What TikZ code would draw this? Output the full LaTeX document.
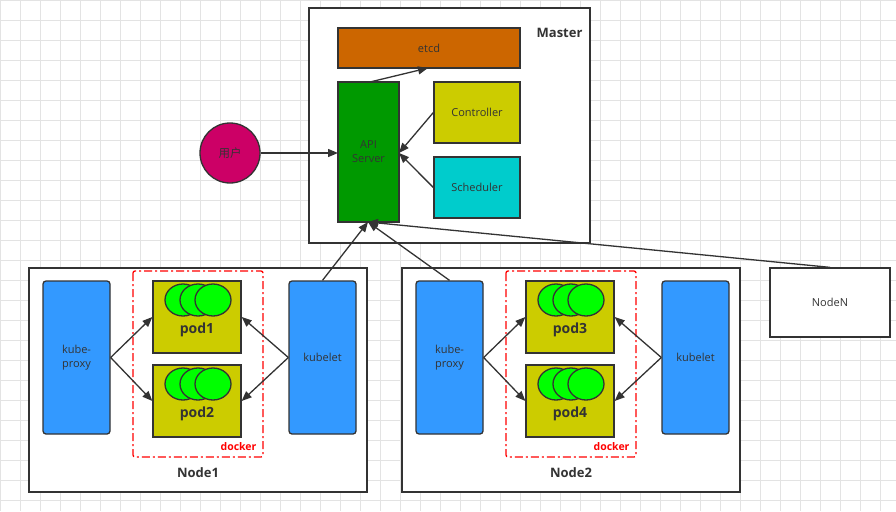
\documentclass[tikz,border=0pt]{standalone}
\usepackage{fontspec}
\setmainfont{Open Sans}
\newfontfamily\cjk{Noto Sans CJK SC}
\usetikzlibrary{arrows.meta}
\definecolor{txt}{HTML}{333333}
\definecolor{etcdc}{HTML}{CC6600}
\definecolor{apic}{HTML}{009900}
\definecolor{ctrlc}{HTML}{CCCC00}
\definecolor{schc}{HTML}{00CCCC}
\definecolor{userc}{HTML}{CC0066}
\definecolor{bluec}{HTML}{3399FF}
\definecolor{podc}{HTML}{00FF00}
\begin{document}
\begin{tikzpicture}[x=1pt,y=-1pt,
  box/.style={draw=txt,line width=1.3pt,text=txt,font=\fontsize{11}{14}\selectfont,inner sep=0pt},
  frame/.style={draw=txt,line width=1.3pt,fill=white},
  blue/.style={box,fill=bluec,rounded corners=3pt,align=center},
  pod/.style={box,fill=ctrlc},
  arr/.style={draw=txt,line width=1.3pt,-{Triangle[length=10pt,width=8pt]}},
  lbl/.style={text=txt,font=\fontsize{13}{15}\selectfont\bfseries}]
\useasboundingbox (0,0) rectangle (896,511);
\fill[white] (0,0) rectangle (896,511);
\foreach \gx in {0,20,...,880} \draw[black!11,line width=0.5pt] (\gx,0) -- (\gx,511);
\foreach \gy in {0,20,...,500} \draw[black!11,line width=0.5pt] (0,\gy) -- (896,\gy);
% master
\draw[frame] (309,8) rectangle (590,243);
\node[lbl,anchor=north east] (mlab) at (586,25) {Master};
\node[box,fill=etcdc,minimum width=182pt,minimum height=40pt] (etcd) at (429,48) {etcd};
\node[box,fill=apic,minimum width=61pt,minimum height=140pt,align=center] (api) at (368.5,152) {API\\Server};
\node[box,fill=ctrlc,minimum width=86pt,minimum height=61pt] (ctrl) at (477,112.5) {Controller};
\node[box,fill=schc,minimum width=86pt,minimum height=61pt] (sch) at (477,187.5) {Scheduler};
\node[box,circle,fill=userc,minimum size=60pt,font=\cjk\fontsize{11.5}{14}\selectfont] (user) at (230,153) {用户};
\coordinate (apiin) at (338,153);
\coordinate (apiout) at (399,153);
\coordinate (apitop) at (370,82);
\coordinate (etcdb) at (428,68);
\coordinate (apibot) at (368,222);
\draw[arr] (user) -- (apiin);
\draw[arr] (apitop) -- (etcdb);
\draw[arr] (ctrl.west) -- (apiout);
\draw[arr] (sch.west) -- (apiout);
% nodes
\foreach \dx/\n/\pa/\pb in {0/1/1/2,373/2/3/4}{
  \begin{scope}[xshift=\dx]
  \draw[frame] (29,268) rectangle (367,492);
  \node[lbl] (nlab\n) at (198,473) {Node\n};
  \draw[red,line width=1.3pt,dash pattern=on 8pt off 3pt on 2pt off 3pt,rounded corners=2pt] (133,271) rectangle (263,457);
  \node[text=red,font=\fontsize{10.5}{12}\selectfont\bfseries,anchor=east] (dock\n) at (260,447) {docker};
  \node[blue,minimum width=67pt,minimum height=153pt] (kp\n) at (76.5,357.5) {kube-\\proxy};
  \node[blue,minimum width=67pt,minimum height=153pt] (kl\n) at (322.5,357.5) {kubelet};
  \node[pod,minimum width=88pt,minimum height=72pt] (pa\n) at (197,317) {};
  \node[pod,minimum width=88pt,minimum height=72pt] (pb\n) at (197,401) {};
  \foreach \p/\y/\t in {pa/317/\pa,pb/401/\pb}{
    \foreach \cx in {183,198,213}
      \draw[txt,fill=podc,line width=1.3pt] (\cx,\y-17) ellipse[x radius=18pt,y radius=16pt];
    \node[lbl,font=\fontsize{14}{16}\selectfont\bfseries] at (197,\y+13) {pod\t};
  }
  \draw[arr] (kp\n.east) -- (pa\n.west);
  \draw[arr] (kp\n.east) -- (pb\n.west);
  \draw[arr] (kl\n.west) -- (pa\n.east);
  \draw[arr] (kl\n.west) -- (pb\n.east);
  \end{scope}
}
\node[frame,box,fill=white,minimum width=120pt,minimum height=69pt] (nn) at (830,302.5) {NodeN};
\draw[arr] (kl1.north) -- (apibot);
\draw[arr] (kp2.north) -- (apibot);
\draw[arr] (nn.north) -- (apibot);
\end{tikzpicture}
\end{document}
